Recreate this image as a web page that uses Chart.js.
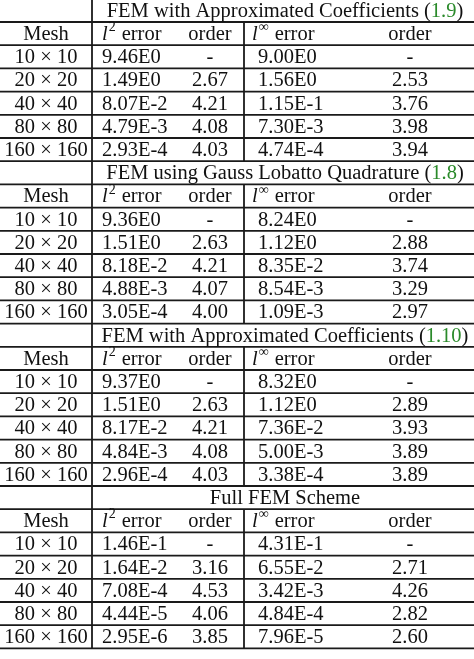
<!DOCTYPE html>
<html>
<head>
<meta charset="utf-8">
<script src="https://cdn.jsdelivr.net/npm/chart.js@4"></script>
<style>body{margin:0;background:#fff}</style>
</head>
<body>
<canvas id="myChart" width="474" height="659"></canvas>
<script>
// Table content
const meshes = ['10 × 10', '20 × 20', '40 × 40', '80 × 80', '160 × 160'];
const titles = ['FEM with Approximated Coefficients', 'FEM using Gauss Lobatto Quadrature',
                'FEM with Approximated Coefficients', 'Full FEM Scheme'];
const refs = ['1.9', '1.8', '1.10', ''];
const l2Err = [
    ['9.46E0', '1.49E0', '8.07E-2', '4.79E-3', '2.93E-4'],
    ['9.36E0', '1.51E0', '8.18E-2', '4.88E-3', '3.05E-4'],
    ['9.37E0', '1.51E0', '8.17E-2', '4.84E-3', '2.96E-4'],
    ['1.46E-1', '1.64E-2', '7.08E-4', '4.44E-5', '2.95E-6']
];
const l2Ord = [
    ['-', '2.67', '4.21', '4.08', '4.03'],
    ['-', '2.63', '4.21', '4.07', '4.00'],
    ['-', '2.63', '4.21', '4.08', '4.03'],
    ['-', '3.16', '4.53', '4.06', '3.85']
];
const linfErr = [
    ['9.00E0', '1.56E0', '1.15E-1', '7.30E-3', '4.74E-4'],
    ['8.24E0', '1.12E0', '8.35E-2', '8.54E-3', '1.09E-3'],
    ['8.32E0', '1.12E0', '7.36E-2', '5.00E-3', '3.38E-4'],
    ['4.31E-1', '6.55E-2', '3.42E-3', '4.84E-4', '7.96E-5']
];
const linfOrd = [
    ['-', '2.53', '3.76', '3.98', '3.94'],
    ['-', '2.88', '3.74', '3.29', '2.97'],
    ['-', '2.89', '3.93', '3.89', '3.89'],
    ['-', '2.71', '4.26', '2.82', '2.60']
];

const FONT = '"Liberation Serif", "DejaVu Serif", serif';
const ROW_H = 23.2, TOP = 22;
const FS = 20.5;

const tablePlugin = {
    id: 'table',
    afterDraw(chart) {
        const ctx = chart.ctx;
        const xs = chart.scales.x, ys = chart.scales.y;
        const X = v => xs.getPixelForValue(v);
        const Y = v => ys.getPixelForValue(v);
        const lineY = k => TOP + ROW_H * k;
        const midY = k => lineY(k) - ROW_H / 2;

        ctx.save();
        ctx.strokeStyle = '#1a1a1a';
        ctx.lineWidth = 1.8;
        // horizontal lines
        for (let k = 0; k <= 27; k++) {
            ctx.beginPath();
            ctx.moveTo(X(0), Y(lineY(k)));
            ctx.lineTo(X(474), Y(lineY(k)));
            ctx.stroke();
        }
        // vertical lines
        ctx.beginPath();
        ctx.moveTo(X(92), Y(0));
        ctx.lineTo(X(92), Y(lineY(27)));
        ctx.stroke();
        for (let b = 0; b < 4; b++) {
            ctx.beginPath();
            ctx.moveTo(X(244), Y(lineY(b * 7)));
            ctx.lineTo(X(244), Y(lineY(b * 7 + 6)));
            ctx.stroke();
        }

        ctx.fillStyle = '#111';
        ctx.textBaseline = 'middle';
        const font = sz => sz + 'px ' + FONT;
        const cell = (t, x, y, align) => {
            ctx.textAlign = align || 'center';
            ctx.fillText(t, X(x), Y(y));
        };
        const errHead = (x, sup, y) => {
            ctx.textAlign = 'left';
            ctx.font = 'italic ' + font(FS);
            ctx.fillText('l', X(x), Y(y));
            let w = ctx.measureText('l').width + 1;
            ctx.font = font(14);
            ctx.fillText(sup, X(x) + w, Y(y) - 7);
            w += ctx.measureText(sup).width + 6;
            ctx.font = font(FS);
            ctx.fillText('error', X(x) + w, Y(y));
        };

        for (let b = 0; b < 4; b++) {
            const r0 = b * 7;
            // title
            ctx.font = font(FS);
            const ty = midY(r0) + 1;
            if (refs[b]) {
                const main = titles[b] + ' (';
                const wMain = ctx.measureText(main).width;
                const wRef = ctx.measureText(refs[b]).width;
                const wEnd = ctx.measureText(')').width;
                let x0 = X(285) - (wMain + wRef + wEnd) / 2;
                ctx.textAlign = 'left';
                ctx.fillText(main, x0, Y(ty));
                ctx.fillStyle = '#2a8a2a';
                ctx.fillText(refs[b], x0 + wMain, Y(ty));
                ctx.fillStyle = '#111';
                ctx.fillText(')', x0 + wMain + wRef, Y(ty));
            } else {
                cell(titles[b], 285, ty);
            }
            // header
            const hy = midY(r0 + 1) + 1;
            ctx.font = font(FS);
            cell('Mesh', 46, hy);
            cell('order', 210, hy);
            cell('order', 410, hy);
            errHead(102, '2', hy);
            errHead(252, '∞', hy);
            // data
            for (let i = 0; i < 5; i++) {
                const y = midY(r0 + 2 + i) + 1;
                ctx.font = font(FS);
                cell(meshes[i], 46, y);
                cell(l2Err[b][i], 102, y, 'left');
                cell(l2Ord[b][i], 210, y);
                cell(linfErr[b][i], 258, y, 'left');
                cell(linfOrd[b][i], 410, y);
            }
        }
        ctx.restore();
    }
};

new Chart(document.getElementById('myChart').getContext('2d'), {
    type: 'scatter',
    data: { datasets: [{ data: [], pointRadius: 0 }] },
    options: {
        responsive: false,
        animation: false,
        devicePixelRatio: 1,
        layout: { padding: 0 },
        plugins: { legend: { display: false }, tooltip: { enabled: false } },
        scales: {
            x: { type: 'linear', min: 0, max: 474, display: false },
            y: { type: 'linear', min: 0, max: 659, reverse: true, display: false }
        }
    },
    plugins: [tablePlugin]
});
</script>
</body>
</html>
